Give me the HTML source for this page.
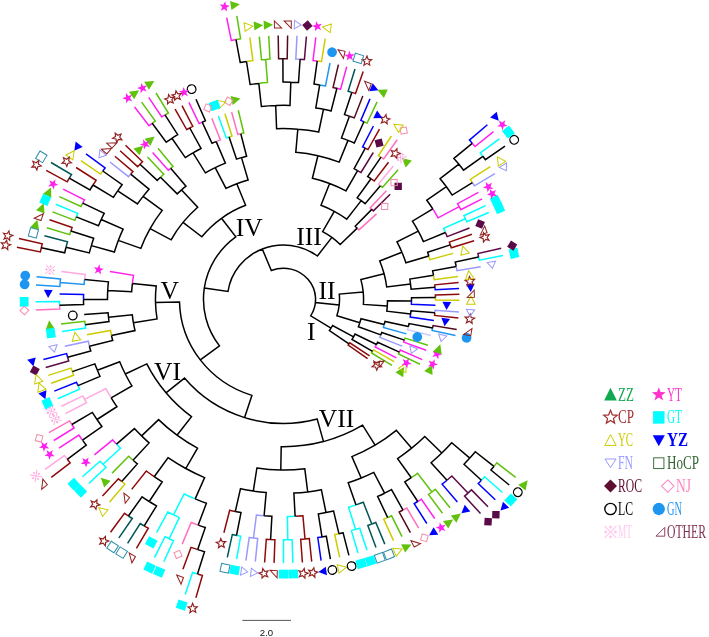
<!DOCTYPE html>
<html><head><meta charset="utf-8"><title>Circular phylogenetic tree</title>
<style>html,body{margin:0;padding:0;background:#fff}svg{display:block}.rn{font-family:"Liberation Serif",serif;font-size:25.5px;fill:#000}.lg{font-family:"Liberation Serif",serif;font-size:18.6px}.sc{font-family:"Liberation Sans",sans-serif;font-size:9.6px;fill:#111}</style></head><body>
<svg width="709" height="637" viewBox="0 0 709 637">
<rect width="709" height="637" fill="#fff"/>
<g fill="none" stroke-width="1.5" stroke-linejoin="miter" stroke-linecap="butt">
<path stroke="#8E0A0A" d="M349 343.9A80 77.6 0 0 1 348.2 345L367.6 358.7M349 343.9A80 77.6 0 0 0 349.8 342.8L369.6 355.9M434.9 312.8A152 147.4 0 0 1 434.6 315.4L458.4 317.9M435.5 297.5A152 147.4 0 0 0 435.4 295L459.4 294.3M435 287.3A152 147.4 0 0 0 434.8 284.8L458.6 282.5M450.3 244.9A176 170.7 0 0 1 451.3 247.7L474.1 240.7M450.3 244.9A176 170.7 0 0 0 449.3 242.1L471.9 234.3M371 178.7A152 147.4 0 0 1 374.2 181L388.5 162.3M365.3 148.1A176 170.7 0 0 1 368 149.5L379.5 129.1M351.8 92.4A224 217.2 0 0 1 355.5 93.6L363.2 71.5M189.8 128A200 194 0 0 1 192.8 126.4L182 105.7M189.8 128A200 194 0 0 0 186.7 129.6L175.1 109.2M140 164.2A200 194 0 0 1 142.5 161.8L125.5 145.3M140 164.2A200 194 0 0 0 137.6 166.6L120.1 150.7M130.7 174.1A200 194 0 0 1 133 171.6L114.9 156.3M93 185A224 217.2 0 0 1 96.1 180.3L76.1 167.5M69.3 178.2A248 240.5 0 0 0 67.2 181.8L46.2 170.4M70.9 231A224 217.2 0 0 1 72.1 227.5L49.5 219.8M41.3 247.8A248 240.5 0 0 1 42.2 243.8L18.9 238.4M41.3 247.8A248 240.5 0 0 0 40.4 251.9L16.9 247.3M67.3 459.3A271.9 263.8 0 0 0 70.2 462.9L51.3 477.3M121.7 481.5A248 240.5 0 0 1 118.4 478.8L102.5 496.1M154.2 476.7A224 217.2 0 0 1 146.3 471L131.7 489.4M128.4 516A271.9 263.8 0 0 1 124.5 513.3L110.5 532.2M144.2 525.9A271.9 263.8 0 0 0 148.3 528.2L136.4 548.4M197.7 549.6A271.9 263.8 0 0 1 191 547.4L182.9 569.3M197.5 574A295.9 287.1 0 0 0 202.4 575.4L195.9 597.8M235.3 511.5A224 217.2 0 0 1 229.7 510.2L223.9 532.8M270.6 539.5A248 240.5 0 0 1 266.3 539.2L264.6 562.5M270.6 539.5A248 240.5 0 0 0 274.9 539.7L274.1 562.9M295.1 516.3A224 217.2 0 0 0 302.9 515.7L305 538.9M305 538.9A248 240.5 0 0 1 300.7 539.2L302.4 562.5M305 538.9A248 240.5 0 0 0 309.3 538.5L311.7 561.7"/>
<path stroke="#60C20C" d="M372.6 351.4A104 100.9 0 0 1 371.6 352.9L391.9 365.3M399.4 352.1A128 124.2 0 0 1 398.4 354L420 364.3M404.4 340.1A128 124.2 0 0 0 405.1 338.1L427.9 345.3M380.4 185.7A152 147.4 0 0 1 382.4 187.4L398.1 169.7M363.9 121.7A200 194 0 0 1 367.1 123.1L377.1 101.9M258.8 83.4A224 217.2 0 0 1 267.5 82.6L265.7 59.4M265.7 59.4A248 240.5 0 0 1 270 59.1L268.7 35.9M265.7 59.4A248 240.5 0 0 0 261.5 59.7L259.3 36.6M236 39.6A271.9 263.8 0 0 1 240.6 38.8L236.8 15.8M240.8 133.7A176 170.7 0 0 1 243.8 133L238.3 110.3M165 114.9A224 217.2 0 0 1 168.4 113L156 93M152.2 123.3A224 217.2 0 0 1 155.3 121.1L141.6 102.1M170.7 168.3A176 170.7 0 0 1 173 166.4L158 148.3M160.5 177.2A176 170.7 0 0 1 163.8 174.2L147.5 157.1M82.7 203.1A224 217.2 0 0 0 81 206.5L59.3 196.6M76.3 216.9A224 217.2 0 0 0 74.8 220.4L52.5 211.9M70.9 231A224 217.2 0 0 0 69.7 234.6L46.8 227.7M85.2 324.7A200 194 0 0 1 84.8 321.3L61 324M133 460.2A224 217.2 0 0 1 128.7 456.3L112.1 473.1M387.7 517.6A248 240.5 0 0 0 391.6 515.8L402 536.7M411.3 477.7A224 217.2 0 0 0 417.6 473.3L431.9 492M431.9 492A248 240.5 0 0 1 428.5 494.4L442.5 513.3M431.9 492A248 240.5 0 0 0 435.3 489.4L450 507.8M493.9 466.4A271.9 263.8 0 0 0 496.8 462.9L515.7 477.3"/>
<path stroke="#CCCC00" d="M372.6 351.4A104 100.9 0 0 0 373.5 349.9L394.2 361.6M435.5 297.5A152 147.4 0 0 1 435.5 300.1L459.5 300.2M433.5 275.2A152 147.4 0 0 1 434.1 279.7L457.9 276.6M428.8 256A152 147.4 0 0 1 429.9 259.7L453 253.4M472.4 182.6A224 217.2 0 0 0 470.3 179.4L490.3 166.6M381 157.2A176 170.7 0 0 0 378.5 155.6L391.4 136M317.2 61A248 240.5 0 0 1 321.5 61.6L325.2 38.6M246.5 61.5A248 240.5 0 0 1 252.9 60.6L249.9 37.5M229.1 137A176 170.7 0 0 1 232 136.1L224.9 113.8M102.8 171A224 217.2 0 0 0 100.5 174L80.9 160.6M111.5 335.5A176 170.7 0 0 1 110.5 330.4L86.9 334.7M72.3 371.6A224 217.2 0 0 1 71 368.1L48.3 375.4M72.3 371.6A224 217.2 0 0 0 73.6 375.2L51.2 383.3M121.7 481.5A248 240.5 0 0 0 124.9 484.2L109.6 502.1M338.9 533.7A248 240.5 0 0 1 334.7 534.6L339.7 557.4M387.7 517.6A248 240.5 0 0 1 383.8 519.3L393.5 540.6"/>
<path stroke="#FF22EE" d="M376.5 344.5A104 100.9 0 0 1 375.2 346.9L396.4 357.8M399.4 352.1A128 124.2 0 0 0 400.3 350.1L422.2 359.6M404.4 340.1A128 124.2 0 0 1 403.7 342.1L426.2 350.2M432.8 208.8A176 170.7 0 0 1 438.1 217.8L459.2 206.7M459.2 206.7A200 194 0 0 1 460.8 209.7L482.1 198.9M459.2 206.7A200 194 0 0 0 457.5 203.7L478.4 192.3M472.2 143.3A248 240.5 0 0 1 475 146.5L493.5 131.7M336.9 88.3A224 217.2 0 0 1 340.6 89.2L346.7 66.7M317.2 61A248 240.5 0 0 0 313 60.5L315.8 37.4M236 39.6A271.9 263.8 0 0 0 231.3 40.4L226.7 17.6M202.2 122.1A200 194 0 0 0 199.1 123.5L188.9 102.4M165 114.9A224 217.2 0 0 0 161.8 116.9L148.7 97.4M152.2 123.3A224 217.2 0 0 0 149 125.6L134.6 107M170.7 168.3A176 170.7 0 0 0 168.3 170.2L152.6 152.6M82.7 203.1A224 217.2 0 0 1 84.4 199.8L63.1 189.1M132.4 283.5A152 147.4 0 0 1 133.5 275.3L109.9 271.5M71.8 424.5A248 240.5 0 0 0 74.1 428L53.8 440.5M82.5 440.1A248 240.5 0 0 1 78.8 435L59 448.1M116.5 444.1A224 217.2 0 0 1 112.7 439.9L94.4 454.9M417.8 501.5A248 240.5 0 0 0 421.4 499.2L434.7 518.5"/>
<path stroke="#9999FF" d="M380.8 334.9A104 100.9 0 0 1 379.8 337.4L402.1 346.1M434.9 312.8A152 147.4 0 0 0 435.1 310.3L459 312M456.2 266.4A176 170.7 0 0 1 457 270.7L480.7 266.8M472.4 182.6A224 217.2 0 0 1 474.5 185.8L494.9 173.6M300.1 59.3A248 240.5 0 0 0 295.8 59.1L297 35.8M130.7 174.1A200 194 0 0 0 128.5 176.7L109.9 162M89.4 346.2A200 194 0 0 1 88.3 341.2L64.8 346.3M264.1 515.7A224 217.2 0 0 1 256.4 515L253.5 538M253.5 538A248 240.5 0 0 1 249.2 537.5L245.9 560.6M253.5 538A248 240.5 0 0 0 257.7 538.5L255.3 561.7"/>
<path stroke="#1E96F0" d="M384.2 324.5A104 100.9 0 0 1 383.4 327.5L406.4 333.9M432.6 328A152 147.4 0 0 1 432.1 330.5L455.5 335.4M319.7 84.9A224 217.2 0 0 1 325.5 85.9L330 63M84.6 279.4A200 194 0 0 0 84.1 284.4L60.2 282.6M60.2 282.6A224 217.2 0 0 1 60.5 278.9L36.6 276.7M60.2 282.6A224 217.2 0 0 0 59.9 286.4L36 285"/>
<path stroke="#CCCCFF" d="M408.4 326.6A128 124.2 0 0 1 407.6 329.8L430.8 335.5"/>
<path stroke="#520A1A" d="M432.6 328A152 147.4 0 0 0 433.1 325.5L456.7 329.6M349.4 116.2A200 194 0 0 1 354.3 117.9L362.8 96.1M336.9 88.3A224 217.2 0 0 0 333.1 87.4L338.4 64.7M282.9 58.8A248 240.5 0 0 1 287.2 58.8L287.6 35.5M282.9 58.8A248 240.5 0 0 0 278.6 58.8L278.2 35.6M403 510A248 240.5 0 0 1 399.2 512L410.4 532.6"/>
<path stroke="#0000FF" d="M410.6 313.9A128 124.2 0 0 1 410.2 317.1L433.9 320.5M411.5 301A128 124.2 0 0 1 411.4 304.3L435.4 305.2M435 287.3A152 147.4 0 0 1 435.2 289.8L459.1 288.4M472.2 143.3A248 240.5 0 0 0 469.4 140.1L487.4 124.7M365.3 148.1A176 170.7 0 0 0 362.6 146.8L373.4 126M363.9 121.7A200 194 0 0 0 360.8 120.4L370 98.9M102.8 171A224 217.2 0 0 1 105.1 168L86 153.9M83.5 299.5A200 194 0 0 1 83.6 294.5L59.6 293.9M67.6 357.2A224 217.2 0 0 1 66.6 353.6L43.4 359.4M78 385.6A224 217.2 0 0 1 76.5 382.2L54.3 391.1M322 536.9A248 240.5 0 0 1 317.8 537.5L321.1 560.6M417.8 501.5A248 240.5 0 0 1 414.2 503.7L426.8 523.5M447 480.2A248 240.5 0 0 1 442.1 484.2L457.4 502.1M481.4 480.2A271.9 263.8 0 0 1 478.2 483.5L495.3 499.7"/>
<path stroke="#00FFFF" d="M478.6 256.9A200 194 0 0 1 479.4 260.2L502.9 255.5M445.4 232.5A176 170.7 0 0 0 443.6 228.4L465.4 218.7M465.4 218.7A200 194 0 0 1 466.8 221.8L488.8 212.5M465.4 218.7A200 194 0 0 0 463.9 215.7L485.6 205.6M482.9 156.3A248 240.5 0 0 0 480.3 153L499.4 138.9M229.1 137A176 170.7 0 0 0 226.2 137.9L218.4 115.9M76.3 216.9A224 217.2 0 0 1 77.8 213.4L55.7 204.2M59.6 305.2A224 217.2 0 0 1 59.5 301.4L35.6 301.7M85.2 324.7A200 194 0 0 0 85.7 328L62 331.5M78 385.6A224 217.2 0 0 0 79.6 389.1L57.7 398.7M116.5 444.1A224 217.2 0 0 0 120.5 448.3L103 464.2M103 464.2A248 240.5 0 0 1 100.1 461.2L82.4 476.8M103 464.2A248 240.5 0 0 0 106 467.2L88.8 483.5M195.2 498.9A224 217.2 0 0 1 184.1 494L173.5 514.9M173.5 514.9A248 240.5 0 0 1 167.8 512L156.6 532.6M173.5 514.9A248 240.5 0 0 0 179.3 517.6L169.2 538.7M169.2 538.7A271.9 263.8 0 0 1 165 536.7L154.5 557.7M169.2 538.7A271.9 263.8 0 0 0 173.5 540.6L163.8 561.8M197.5 574A295.9 287.1 0 0 1 192.6 572.5L185.2 594.6M236.5 535.5A248 240.5 0 0 0 240.7 536.2L236.6 559.1M295.1 516.3A224 217.2 0 0 1 287.4 516.5L287.8 539.8M287.8 539.8A248 240.5 0 0 1 283.5 539.8L283.5 563.1M287.8 539.8A248 240.5 0 0 0 292.1 539.7L292.9 562.9M356 504.9A224 217.2 0 0 1 348.6 507.2L355.6 529.4M355.6 529.4A248 240.5 0 0 1 351.4 530.6L358 553M355.6 529.4A248 240.5 0 0 0 359.7 528.2L367 550.3M481.4 480.2A271.9 263.8 0 0 0 484.6 476.8L502.4 492.5"/>
<path stroke="#5A0A46" d="M478.6 256.9A200 194 0 0 0 477.9 253.6L501.2 248.2M445.4 232.5A176 170.7 0 0 1 447.2 236.6L469.5 228M371.8 209.4A128 124.2 0 0 1 373.4 210.9L390.2 194.3M357.6 170.6A152 147.4 0 0 1 361 172.5L373.3 152.5M300.1 59.3A248 240.5 0 0 1 304.4 59.6L306.4 36.5M67.6 357.2A224 217.2 0 0 0 68.7 360.9L45.7 367.5M447 480.2A248 240.5 0 0 0 451.8 476L468 493.1M468 493.1A271.9 263.8 0 0 1 464.5 496.1L480.5 513.5M468 493.1A271.9 263.8 0 0 0 471.5 489.9L488 506.7"/>
<path stroke="#FF70C0" d="M357.2 228.1A104 100.9 0 0 1 359 229.9L376.5 213.9M371.8 209.4A128 124.2 0 0 0 370.1 207.9L386.4 190.8M381 157.2A176 170.7 0 0 1 383.6 158.9L397.2 139.7M240.8 133.7A176 170.7 0 0 0 237.8 134.4L231.6 112M216.2 141.6A176 170.7 0 0 1 220.4 139.9L211.8 118.2M59.6 305.2A224 217.2 0 0 0 59.8 309L35.8 310M71.8 424.5A248 240.5 0 0 1 69.6 420.9L48.9 432.7M198.2 525.1A248 240.5 0 0 1 191.2 522.5L182.2 544.1M403 510A248 240.5 0 0 0 406.8 508L418.7 528.2"/>
<path stroke="#FFAAE0" d="M380.4 185.7A152 147.4 0 0 0 378.4 184.1L393.4 165.9M84.6 279.4A200 194 0 0 1 85.2 274.4L61.4 271.4M111.2 397.8A200 194 0 0 1 105.9 388.6L84.6 399.3M84.6 399.3A224 217.2 0 0 1 82.9 395.9L61.4 406.2M84.6 399.3A224 217.2 0 0 0 86.5 402.6L65.4 413.7M67.3 459.3A271.9 263.8 0 0 1 64.4 455.6L45.1 469.4"/>
<path stroke="#005555" d="M351.8 92.4A224 217.2 0 0 0 348.1 91.3L355 69M69.3 178.2A248 240.5 0 0 1 71.5 174.6L51 162.5M66 247.3A224 217.2 0 0 1 67.5 241.8L44.4 235.7M128.4 516A271.9 263.8 0 0 0 132.3 518.5L118.9 537.9M144.2 525.9A271.9 263.8 0 0 1 140.2 523.5L127.6 543.3M236.5 535.5A248 240.5 0 0 1 232.3 534.6L227.3 557.4M356 504.9A224 217.2 0 0 0 363.3 502.3L371.8 524M371.8 524A248 240.5 0 0 1 367.8 525.5L376 547.4M371.8 524A248 240.5 0 0 0 375.8 522.5L384.8 544.1"/>
<path stroke="#000000" d="M308 279.3A32.1 31.1 0 0 1 310.7 315.8L331 328.1M331 328.1A56 54.4 0 0 1 329.4 330.5L349 343.9M331 328.1A56 54.4 0 0 0 332.6 325.5L353.6 336.8M353.6 336.8A80 77.6 0 0 1 352 339.4L372.6 351.4M353.6 336.8A80 77.6 0 0 0 355 334.1L376.5 344.5M376.5 344.5A104 100.9 0 0 0 377.7 342.2L399.4 352.1M308 279.3A32.1 31.1 0 0 1 315.4 302.6L339.2 305M339.2 305A56 54.4 0 0 1 336.9 315.7L359.8 322.7M359.8 322.7A80 77.6 0 0 1 358.4 326.7L380.8 334.9M380.8 334.9A104 100.9 0 0 0 381.7 332.5L404.4 340.1M359.8 322.7A80 77.6 0 0 0 361 318.7L384.2 324.5M384.2 324.5A104 100.9 0 0 0 385 321.5L408.4 326.6M408.4 326.6A128 124.2 0 0 0 409.1 323.5L432.6 328M339.2 305A56 54.4 0 0 0 339.3 294.1L363.2 291.9M363.2 291.9A80 77.6 0 0 1 363.4 304.4L387.3 305.9M387.3 305.9A104 100.9 0 0 1 386.8 311.2L410.6 313.9M410.6 313.9A128 124.2 0 0 0 411 310.7L434.9 312.8M387.3 305.9A104 100.9 0 0 0 387.5 300.7L411.5 301M411.5 301A128 124.2 0 0 0 411.5 297.8L435.5 297.5M363.2 291.9A80 77.6 0 0 0 360.9 279.6L384.1 273.7M384.1 273.7A104 100.9 0 0 1 386.7 287L410.5 284.1M410.5 284.1A128 124.2 0 0 1 411.1 289.2L435 287.3M410.5 284.1A128 124.2 0 0 0 409.8 279L433.5 275.2M433.5 275.2A152 147.4 0 0 0 432.6 270.8L456.2 266.4M456.2 266.4A176 170.7 0 0 0 455.2 262L478.6 256.9M384.1 273.7A104 100.9 0 0 0 379.7 261L401.9 252.2M401.9 252.2A128 124.2 0 0 1 405.9 262.8L428.8 256M428.8 256A152 147.4 0 0 0 427.6 252.3L450.3 244.9M401.9 252.2A128 124.2 0 0 0 397 241.9L418.3 231.2M418.3 231.2A152 147.4 0 0 1 423.4 241.6L445.4 232.5M418.3 231.2A152 147.4 0 0 0 412.4 221.2L432.8 208.8M432.8 208.8A176 170.7 0 0 0 426.8 200.2L446.4 186.7M446.4 186.7A200 194 0 0 1 452.2 195.1L472.4 182.6M446.4 186.7A200 194 0 0 0 440.1 178.7L458.9 164.2M458.9 164.2A224 217.2 0 0 1 463.6 170.2L482.9 156.3M482.9 156.3A248 240.5 0 0 1 485.4 159.7L505 146.2M458.9 164.2A224 217.2 0 0 0 453.9 158.4L472.2 143.3M308 279.3A32.1 31.1 0 0 0 271.3 270.5L262.3 249M262.3 249A56 54.4 0 0 1 317.4 256L331.9 237.4M331.9 237.4A80 77.6 0 0 1 340.2 244.5L357.2 228.1M357.2 228.1A104 100.9 0 0 0 355.2 226.2L371.8 209.4M331.9 237.4A80 77.6 0 0 0 322.6 231.6L334.3 211.3M334.3 211.3A104 100.9 0 0 1 346.7 219.1L361.2 200.6M361.2 200.6A128 124.2 0 0 1 365.1 203.7L380.4 185.7M361.2 200.6A128 124.2 0 0 0 357.2 197.8L371 178.7M371 178.7A152 147.4 0 0 0 367.7 176.6L381 157.2M334.3 211.3A104 100.9 0 0 0 321 205.2L329.6 183.5M329.6 183.5A128 124.2 0 0 1 345.9 190.9L357.6 170.6M357.6 170.6A152 147.4 0 0 0 354.1 168.7L365.3 148.1M329.6 183.5A128 124.2 0 0 0 312.4 178.3L317.9 155.7M317.9 155.7A152 147.4 0 0 1 339.2 162.1L348 140.4M348 140.4A176 170.7 0 0 1 354.3 143L363.9 121.7M348 140.4A176 170.7 0 0 0 341.5 138.1L349.4 116.2M349.4 116.2A200 194 0 0 0 344.5 114.6L351.8 92.4M317.9 155.7A152 147.4 0 0 0 295.8 152.3L297.8 129.2M297.8 129.2A176 170.7 0 0 1 318.7 132L323.5 109.2M323.5 109.2A200 194 0 0 1 331.1 110.9L336.9 88.3M323.5 109.2A200 194 0 0 0 315.8 107.9L319.7 84.9M319.7 84.9A224 217.2 0 0 0 314 84.1L317.2 61M297.8 129.2A176 170.7 0 0 0 276.6 128.7L275.7 105.5M275.7 105.5A200 194 0 0 1 290 105.4L290.8 82.2M290.8 82.2A224 217.2 0 0 1 298.5 82.5L300.1 59.3M290.8 82.2A224 217.2 0 0 0 283 82.1L282.9 58.8M275.7 105.5A200 194 0 0 0 261.4 106.5L258.8 83.4M258.8 83.4A224 217.2 0 0 0 250.1 84.5L246.5 61.5M246.5 61.5A248 240.5 0 0 0 240.2 62.5L236 39.6M262.3 249A56 54.4 0 0 0 228 291.5L204.3 288.1M204.3 288.1A80 77.6 0 0 1 235.8 236.9L221.5 218.3M221.5 218.3A104 100.9 0 0 1 245.6 205.3L236.8 183.7M236.8 183.7A128 124.2 0 0 1 248.1 180L241.5 157.6M241.5 157.6A152 147.4 0 0 1 246.6 156.3L240.8 133.7M241.5 157.6A152 147.4 0 0 0 236.5 159.1L229.1 137M236.8 183.7A128 124.2 0 0 0 226 188.4L215.2 167.6M215.2 167.6A152 147.4 0 0 1 225.4 163.1L216.2 141.6M216.2 141.6A176 170.7 0 0 0 212 143.3L202.2 122.1M202.2 122.1A200 194 0 0 1 205.4 120.7L196 99.3M215.2 167.6A152 147.4 0 0 0 205.4 172.8L193 152.9M193 152.9A176 170.7 0 0 1 201 148.5L189.8 128M193 152.9A176 170.7 0 0 0 185.3 157.6L171.9 138.3M171.9 138.3A200 194 0 0 1 177.7 134.7L165 114.9M171.9 138.3A200 194 0 0 0 166.2 142.2L152.2 123.3M221.5 218.3A104 100.9 0 0 0 201.8 236.8L183 222.4M183 222.4A128 124.2 0 0 1 197.7 207.2L181.6 189.9M181.6 189.9A152 147.4 0 0 1 186 186.2L170.7 168.3M181.6 189.9A152 147.4 0 0 0 177.2 193.9L160.5 177.2M160.5 177.2A176 170.7 0 0 0 157.2 180.4L140 164.2M183 222.4A128 124.2 0 0 0 171.1 239.8L150.1 228.7M150.1 228.7A152 147.4 0 0 1 162.2 210.4L143.1 196.4M143.1 196.4A176 170.7 0 0 1 149 189.2L130.7 174.1M143.1 196.4A176 170.7 0 0 0 137.5 203.9L117.7 190.9M117.7 190.9A200 194 0 0 1 122.1 184.7L102.8 171M117.7 190.9A200 194 0 0 0 113.4 197.3L93 185M93 185A224 217.2 0 0 0 90 189.9L69.3 178.2M150.1 228.7A152 147.4 0 0 0 140.8 248.4L118.3 240.4M118.3 240.4A176 170.7 0 0 1 123.1 229.1L101.2 219.5M101.2 219.5A200 194 0 0 1 104.2 213.4L82.7 203.1M101.2 219.5A200 194 0 0 0 98.5 225.7L76.3 216.9M118.3 240.4A176 170.7 0 0 0 114.4 252L91.4 245.6M91.4 245.6A200 194 0 0 1 93.7 238.3L70.9 231M91.4 245.6A200 194 0 0 0 89.3 252.9L66 247.3M66 247.3A224 217.2 0 0 0 64.7 252.8L41.3 247.8M204.3 288.1A80 77.6 0 0 0 219.5 345.9L200.3 359.9M200.3 359.9A104 100.9 0 0 1 179.5 301.9L155.5 302.5M155.5 302.5A128 124.2 0 0 1 156.2 286L132.4 283.5M132.4 283.5A152 147.4 0 0 0 131.7 291.8L107.7 290.6M107.7 290.6A176 170.7 0 0 1 108.4 281.8L84.6 279.4M107.7 290.6A176 170.7 0 0 0 107.5 299.5L83.5 299.5M83.5 299.5A200 194 0 0 0 83.6 304.6L59.6 305.2M155.5 302.5A128 124.2 0 0 0 157.1 319L133.4 322.7M133.4 322.7A152 147.4 0 0 1 132.3 314.8L108.5 317.2M108.5 317.2A176 170.7 0 0 1 108.1 312.8L84.2 314.6M108.5 317.2A176 170.7 0 0 0 109 321.6L85.2 324.7M133.4 322.7A152 147.4 0 0 0 135 330.6L111.5 335.5M111.5 335.5A176 170.7 0 0 0 112.7 340.5L89.4 346.2M89.4 346.2A200 194 0 0 0 90.8 351L67.6 357.2M200.3 359.9A104 100.9 0 0 0 251.9 395.4L244.6 417.6M244.6 417.6A128 124.2 0 0 1 184.5 378.1L166 392.8M166 392.8A152 147.4 0 0 1 146.8 363.9L125.3 374M125.3 374A176 170.7 0 0 1 119.7 361.7L97.4 370.2M97.4 370.2A200 194 0 0 1 94.9 363.9L72.3 371.6M97.4 370.2A200 194 0 0 0 100 376.4L78 385.6M125.3 374A176 170.7 0 0 0 131.9 385.9L111.2 397.8M111.2 397.8A200 194 0 0 0 116.9 406.7L97 419.5M97 419.5A224 217.2 0 0 1 92.3 412.4L71.8 424.5M97 419.5A224 217.2 0 0 0 101.9 426.5L82.5 440.1M82.5 440.1A248 240.5 0 0 0 86.3 445.2L67.3 459.3M166 392.8A152 147.4 0 0 0 191.5 416.7L177 435.2M177 435.2A176 170.7 0 0 1 158.6 419.6L141.6 435.9M141.6 435.9A200 194 0 0 1 134.4 428.6L116.5 444.1M141.6 435.9A200 194 0 0 0 149.1 442.9L133 460.2M133 460.2A224 217.2 0 0 0 137.3 463.9L121.7 481.5M177 435.2A176 170.7 0 0 0 197.5 448.2L185.8 468.5M185.8 468.5A200 194 0 0 1 168 457.7L154.2 476.7M154.2 476.7A224 217.2 0 0 0 162.2 481.9L149.2 501.5M149.2 501.5A248 240.5 0 0 1 142.1 496.8L128.4 516M149.2 501.5A248 240.5 0 0 0 156.5 505.9L144.2 525.9M185.8 468.5A200 194 0 0 0 204.6 477.6L195.2 498.9M195.2 498.9A224 217.2 0 0 0 206.4 503.3L198.2 525.1M198.2 525.1A248 240.5 0 0 0 205.3 527.5L197.7 549.6M197.7 549.6A271.9 263.8 0 0 0 204.5 551.7L197.5 574M244.6 417.6A128 124.2 0 0 0 317.2 419.1L323.5 441.6M323.5 441.6A152 147.4 0 0 1 281.2 446.7L280.8 470M280.8 470A176 170.7 0 0 1 256.9 468L253.3 491.1M253.3 491.1A200 194 0 0 1 240.5 488.7L235.3 511.5M235.3 511.5A224 217.2 0 0 0 241 512.6L236.5 535.5M253.3 491.1A200 194 0 0 0 266.2 492.6L264.1 515.7M264.1 515.7A224 217.2 0 0 0 271.9 516.3L270.6 539.5M280.8 470A176 170.7 0 0 0 304.8 468.8L307.7 491.9M307.7 491.9A200 194 0 0 1 293.9 493L295.1 516.3M307.7 491.9A200 194 0 0 0 321.4 489.8L326 512.6M326 512.6A224 217.2 0 0 1 318.3 513.9L322 536.9M322 536.9A248 240.5 0 0 0 326.3 536.2L330.4 559.1M326 512.6A224 217.2 0 0 0 333.6 511.1L338.9 533.7M338.9 533.7A248 240.5 0 0 0 343.1 532.8L348.9 555.4M323.5 441.6A152 147.4 0 0 0 362.6 425.2L375.1 445.1M375.1 445.1A176 170.7 0 0 1 351.9 456.6L361.2 478M361.2 478A200 194 0 0 1 348.2 482.8L356 504.9M361.2 478A200 194 0 0 0 373.8 472.4L384.6 493.2M384.6 493.2A224 217.2 0 0 1 377.6 496.4L387.7 517.6M384.6 493.2A224 217.2 0 0 0 391.5 489.6L403 510M375.1 445.1A176 170.7 0 0 0 396.3 430.3L411.7 448.2M411.7 448.2A200 194 0 0 1 397.6 458.6L411.3 477.7M411.3 477.7A224 217.2 0 0 1 404.8 481.9L417.8 501.5M411.7 448.2A200 194 0 0 0 424.8 436.5L441.8 453M441.8 453A224 217.2 0 0 1 431.1 462.7L447 480.2M441.8 453A224 217.2 0 0 0 451.7 442.7L469.8 458.1M469.8 458.1A248 240.5 0 0 1 464 464.2L481.4 480.2M469.8 458.1A248 240.5 0 0 0 475.3 451.7L493.9 466.4M493.9 466.4A271.9 263.8 0 0 1 490.9 470L509.2 485"/>
</g>
<g>
<g transform="translate(376.8 365.2) rotate(-323.9)"><polygon points="0,-5 1.3,-1.8 4.8,-1.5 2.1,0.7 2.9,4 0,2.2 -2.9,4 -2.1,0.7 -4.8,-1.5 -1.3,-1.8" fill="none" stroke="#922020" stroke-width="1.15"/></g>
<g transform="translate(379.1 362) rotate(-325.9)"><polygon points="3.5,-3.7 3.5,3.5 -3.7,3.5" fill="none" stroke="#922020" stroke-width="1.0"/></g>
<g transform="translate(401.6 371.1) rotate(-327.9)"><polygon points="0,-4.9 4.6,4.3 -4.6,4.3" fill="#60C20C"/></g>
<g transform="translate(404.1 367.1) rotate(-329.9)"><polygon points="0,-4.4 4.3,3.9 -4.3,3.9" fill="none" stroke="#CCCC00" stroke-width="1.0"/></g>
<g transform="translate(406.4 363) rotate(-331.9)"><polygon points="0,-5.4 1.3,-1.8 5.1,-1.7 2.1,0.7 3.2,4.4 0,2.2 -3.2,4.4 -2.1,0.7 -5.1,-1.7 -1.3,-1.8" fill="#FF22EE"/></g>
<g transform="translate(430.2 369.1) rotate(-333.9)"><polygon points="0,-4.9 4.6,4.3 -4.6,4.3" fill="#60C20C"/></g>
<g transform="translate(432.6 364.1) rotate(-335.8)"><polygon points="0,-5.4 1.3,-1.8 5.1,-1.7 2.1,0.7 3.2,4.4 0,2.2 -3.2,4.4 -2.1,0.7 -5.1,-1.7 -1.3,-1.8" fill="#FF22EE"/></g>
<g transform="translate(412.6 350.3) rotate(-337.8)"><polygon points="0,3.4 4.2,-3.2 -4.2,-3.2" fill="none" stroke="#9999FF" stroke-width="1.0"/></g>
<g transform="translate(436.8 354) rotate(-339.8)"><polygon points="0,-5.4 1.3,-1.8 5.1,-1.7 2.1,0.7 3.2,4.4 0,2.2 -3.2,4.4 -2.1,0.7 -5.1,-1.7 -1.3,-1.8" fill="#FF22EE"/></g>
<g transform="translate(438.7 348.8) rotate(-341.8)"><polygon points="0,-4.9 4.6,4.3 -4.6,4.3" fill="#60C20C"/></g>
<g transform="translate(417.3 337) rotate(-343.8)"><circle r="4.9" fill="#1E96F0"/></g>
<g transform="translate(441.9 338.2) rotate(-345.8)"><polygon points="0,3.4 4.2,-3.2 -4.2,-3.2" fill="none" stroke="#9999FF" stroke-width="1.0"/></g>
<g transform="translate(466.6 337.8) rotate(-347.8)"><circle r="4.9" fill="#1E96F0"/></g>
<g transform="translate(467.9 331.6) rotate(-349.8)"><polygon points="3.5,-3.7 3.5,3.5 -3.7,3.5" fill="none" stroke="#922020" stroke-width="1.0"/></g>
<g transform="translate(445.2 322) rotate(-351.8)"><polygon points="0,4.3 4.4,-3.7 -4.4,-3.7" fill="#0000FF"/></g>
<g transform="translate(469.7 319.1) rotate(-353.7)"><polygon points="0,-5 1.3,-1.8 4.8,-1.5 2.1,0.7 2.9,4 0,2.2 -2.9,4 -2.1,0.7 -4.8,-1.5 -1.3,-1.8" fill="none" stroke="#922020" stroke-width="1.15"/></g>
<g transform="translate(470.3 312.8) rotate(-355.7)"><polygon points="0,3.4 4.2,-3.2 -4.2,-3.2" fill="none" stroke="#9999FF" stroke-width="1.0"/></g>
<g transform="translate(446.7 305.6) rotate(-357.7)"><polygon points="0,4.3 4.4,-3.7 -4.4,-3.7" fill="#0000FF"/></g>
<g transform="translate(470.9 300.3) rotate(-359.7)"><polygon points="0,-4.4 4.3,3.9 -4.3,3.9" fill="none" stroke="#CCCC00" stroke-width="1.0"/></g>
<g transform="translate(470.8 293.9) rotate(-1.7)"><polygon points="3.5,-3.7 3.5,3.5 -3.7,3.5" fill="none" stroke="#922020" stroke-width="1.0"/></g>
<g transform="translate(470.5 287.7) rotate(-3.7)"><polygon points="0,4.3 4.4,-3.7 -4.4,-3.7" fill="#0000FF"/></g>
<g transform="translate(469.9 281.4) rotate(-5.7)"><polygon points="0,-5 1.3,-1.8 4.8,-1.5 2.1,0.7 2.9,4 0,2.2 -2.9,4 -2.1,0.7 -4.8,-1.5 -1.3,-1.8" fill="none" stroke="#922020" stroke-width="1.15"/></g>
<g transform="translate(469.2 275.1) rotate(-7.6)"><polygon points="0,-4.4 4.3,3.9 -4.3,3.9" fill="none" stroke="#CCCC00" stroke-width="1.0"/></g>
<g transform="translate(491.9 265) rotate(-9.6)"><polygon points="0,3.4 4.2,-3.2 -4.2,-3.2" fill="none" stroke="#9999FF" stroke-width="1.0"/></g>
<g transform="translate(514 253.3) rotate(-11.6)"><rect x="-4.4" y="-4.8" width="8.8" height="9.6" fill="#00FFFF"/></g>
<g transform="translate(512.2 245.6) rotate(-13.6)"><polygon points="0,-5.2 5.2,0 0,5.2 -5.2,0" fill="#5A0A46"/></g>
<g transform="translate(464 250.4) rotate(-15.6)"><polygon points="0,-4.4 4.3,3.9 -4.3,3.9" fill="none" stroke="#CCCC00" stroke-width="1.0"/></g>
<g transform="translate(485 237.4) rotate(-17.6)"><polygon points="0,-5 1.3,-1.8 4.8,-1.5 2.1,0.7 2.9,4 0,2.2 -2.9,4 -2.1,0.7 -4.8,-1.5 -1.3,-1.8" fill="none" stroke="#922020" stroke-width="1.15"/></g>
<g transform="translate(482.6 230.6) rotate(-19.6)"><polygon points="3.5,-3.7 3.5,3.5 -3.7,3.5" fill="none" stroke="#922020" stroke-width="1.0"/></g>
<g transform="translate(480.1 224) rotate(-21.6)"><polygon points="0,-5.2 5.2,0 0,5.2 -5.2,0" fill="#5A0A46"/></g>
<g transform="translate(499.2 208.1) rotate(-23.5)"><rect x="-4.4" y="-4.8" width="8.8" height="9.6" fill="#00FFFF"/></g>
<g transform="translate(495.8 200.9) rotate(-25.5)"><rect x="-4.4" y="-4.8" width="8.8" height="9.6" fill="#00FFFF"/></g>
<g transform="translate(492.2 193.8) rotate(-27.5)"><polygon points="0,-5.4 1.3,-1.8 5.1,-1.7 2.1,0.7 3.2,4.4 0,2.2 -3.2,4.4 -2.1,0.7 -5.1,-1.7 -1.3,-1.8" fill="#FF22EE"/></g>
<g transform="translate(488.3 186.8) rotate(-29.5)"><polygon points="0,-5.4 1.3,-1.8 5.1,-1.7 2.1,0.7 3.2,4.4 0,2.2 -3.2,4.4 -2.1,0.7 -5.1,-1.7 -1.3,-1.8" fill="#FF22EE"/></g>
<g transform="translate(504.6 167.9) rotate(-31.5)"><polygon points="0,3.4 4.2,-3.2 -4.2,-3.2" fill="none" stroke="#9999FF" stroke-width="1.0"/></g>
<g transform="translate(499.8 160.5) rotate(-33.5)"><polygon points="0,-4.4 4.3,3.9 -4.3,3.9" fill="none" stroke="#CCCC00" stroke-width="1.0"/></g>
<g transform="translate(514.2 139.8) rotate(-35.5)"><circle r="4.3" fill="none" stroke="#000000" stroke-width="1.3"/></g>
<g transform="translate(508.4 132.1) rotate(-37.5)"><rect x="-4.4" y="-4.8" width="8.8" height="9.6" fill="#00FFFF"/></g>
<g transform="translate(502.3 124.7) rotate(-39.4)"><polygon points="0,-5.4 1.3,-1.8 5.1,-1.7 2.1,0.7 3.2,4.4 0,2.2 -3.2,4.4 -2.1,0.7 -5.1,-1.7 -1.3,-1.8" fill="#FF22EE"/></g>
<g transform="translate(495.9 117.4) rotate(-41.4)"><polygon points="0,4.3 4.4,-3.7 -4.4,-3.7" fill="#0000FF"/></g>
<g transform="translate(384.7 206.4) rotate(-43.4)"><polygon points="0,-4.4 4.4,0 0,4.4 -4.4,0" fill="none" stroke="#F58CA8" stroke-width="1.0"/></g>
<g transform="translate(398.2 186.4) rotate(-45.4)"><polygon points="0,-5.2 5.2,0 0,5.2 -5.2,0" fill="#5A0A46"/></g>
<g transform="translate(394.1 182.6) rotate(-47.4)"><polygon points="0,-4.4 4.4,0 0,4.4 -4.4,0" fill="none" stroke="#F58CA8" stroke-width="1.0"/></g>
<g transform="translate(405.5 161.3) rotate(-49.4)"><polygon points="0,-4.9 4.6,4.3 -4.6,4.3" fill="#60C20C"/></g>
<g transform="translate(400.5 157.3) rotate(-51.4)"><g stroke="#FFAAE0" stroke-width="0.9" fill="#FFAAE0"><path d="M-4.4-4.4L4.4 4.4M4.4-4.4L-4.4 4.4" fill="none"/><circle cx="0" cy="-3.6" r="0.7"/><circle cx="0" cy="3.6" r="0.7"/><circle cx="-3.6" cy="0" r="0.7"/><circle cx="3.6" cy="0" r="0.7"/></g></g>
<g transform="translate(395.3 153.5) rotate(-53.4)"><polygon points="0,-5 1.3,-1.8 4.8,-1.5 2.1,0.7 2.9,4 0,2.2 -2.9,4 -2.1,0.7 -4.8,-1.5 -1.3,-1.8" fill="none" stroke="#922020" stroke-width="1.15"/></g>
<g transform="translate(403.7 130.6) rotate(-55.3)"><polygon points="0,-4.4 4.4,0 0,4.4 -4.4,0" fill="none" stroke="#F58CA8" stroke-width="1.0"/></g>
<g transform="translate(397.6 126.7) rotate(-57.3)"><polygon points="0,-4.4 4.3,3.9 -4.3,3.9" fill="none" stroke="#CCCC00" stroke-width="1.0"/></g>
<g transform="translate(379.1 143) rotate(-59.3)"><polygon points="0,-5.2 5.2,0 0,5.2 -5.2,0" fill="#5A0A46"/></g>
<g transform="translate(385 119.5) rotate(-61.3)"><polygon points="0,-5 1.3,-1.8 4.8,-1.5 2.1,0.7 2.9,4 0,2.2 -2.9,4 -2.1,0.7 -4.8,-1.5 -1.3,-1.8" fill="none" stroke="#922020" stroke-width="1.15"/></g>
<g transform="translate(378.5 116.1) rotate(-63.3)"><polygon points="0,4.3 4.4,-3.7 -4.4,-3.7" fill="#0000FF"/></g>
<g transform="translate(381.9 91.9) rotate(-65.3)"><polygon points="0,-4.9 4.6,4.3 -4.6,4.3" fill="#60C20C"/></g>
<g transform="translate(374.4 88.7) rotate(-67.3)"><polygon points="0,4.3 4.4,-3.7 -4.4,-3.7" fill="#0000FF"/></g>
<g transform="translate(366.8 85.8) rotate(-69.3)"><polygon points="3.5,-3.7 3.5,3.5 -3.7,3.5" fill="none" stroke="#922020" stroke-width="1.0"/></g>
<g transform="translate(366.9 61.1) rotate(-71.2)"><polygon points="0,-5 1.3,-1.8 4.8,-1.5 2.1,0.7 2.9,4 0,2.2 -2.9,4 -2.1,0.7 -4.8,-1.5 -1.3,-1.8" fill="none" stroke="#922020" stroke-width="1.15"/></g>
<g transform="translate(358.3 58.4) rotate(-73.2)"><rect x="-4.1" y="-4.3" width="8.2" height="8.6" fill="none" stroke="#2E8CA8" stroke-width="1.0"/></g>
<g transform="translate(349.6 56.1) rotate(-75.2)"><polygon points="0,-5.4 1.3,-1.8 5.1,-1.7 2.1,0.7 3.2,4.4 0,2.2 -3.2,4.4 -2.1,0.7 -5.1,-1.7 -1.3,-1.8" fill="#FF22EE"/></g>
<g transform="translate(340.9 54) rotate(-77.2)"><polygon points="3.5,-3.7 3.5,3.5 -3.7,3.5" fill="none" stroke="#922020" stroke-width="1.0"/></g>
<g transform="translate(332.1 52.2) rotate(-79.2)"><circle r="4.9" fill="#1E96F0"/></g>
<g transform="translate(326.9 27.7) rotate(-81.2)"><polygon points="0,-4.4 4.3,3.9 -4.3,3.9" fill="none" stroke="#CCCC00" stroke-width="1.0"/></g>
<g transform="translate(317.2 26.4) rotate(-83.2)"><polygon points="0,-5.4 1.3,-1.8 5.1,-1.7 2.1,0.7 3.2,4.4 0,2.2 -3.2,4.4 -2.1,0.7 -5.1,-1.7 -1.3,-1.8" fill="#FF22EE"/></g>
<g transform="translate(307.4 25.5) rotate(-85.2)"><polygon points="0,-5.2 5.2,0 0,5.2 -5.2,0" fill="#5A0A46"/></g>
<g transform="translate(297.6 24.8) rotate(-87.2)"><polygon points="0,3.4 4.2,-3.2 -4.2,-3.2" fill="none" stroke="#9999FF" stroke-width="1.0"/></g>
<g transform="translate(287.8 24.5) rotate(-89.1)"><polygon points="3.5,-3.7 3.5,3.5 -3.7,3.5" fill="none" stroke="#922020" stroke-width="1.0"/></g>
<g transform="translate(277.9 24.5) rotate(88.9)"><polygon points="3.5,-3.7 3.5,3.5 -3.7,3.5" fill="none" stroke="#922020" stroke-width="1.0"/></g>
<g transform="translate(268.1 24.9) rotate(86.9)"><polygon points="0,-4.9 4.6,4.3 -4.6,4.3" fill="#60C20C"/></g>
<g transform="translate(258.3 25.6) rotate(84.9)"><polygon points="0,-4.9 4.6,4.3 -4.6,4.3" fill="#60C20C"/></g>
<g transform="translate(248.5 26.6) rotate(82.9)"><polygon points="0,-4.4 4.3,3.9 -4.3,3.9" fill="none" stroke="#CCCC00" stroke-width="1.0"/></g>
<g transform="translate(235 4.9) rotate(80.9)"><polygon points="0,-4.9 4.6,4.3 -4.6,4.3" fill="#60C20C"/></g>
<g transform="translate(224.5 6.7) rotate(78.9)"><polygon points="0,-5.4 1.3,-1.8 5.1,-1.7 2.1,0.7 3.2,4.4 0,2.2 -3.2,4.4 -2.1,0.7 -5.1,-1.7 -1.3,-1.8" fill="#FF22EE"/></g>
<g transform="translate(235.8 99.6) rotate(77)"><polygon points="0,-4.9 4.6,4.3 -4.6,4.3" fill="#60C20C"/></g>
<g transform="translate(228.7 101.3) rotate(75)"><polygon points="0,-4.4 4.4,0 0,4.4 -4.4,0" fill="none" stroke="#F58CA8" stroke-width="1.0"/></g>
<g transform="translate(221.6 103.3) rotate(73)"><polygon points="0,-4.4 4.3,3.9 -4.3,3.9" fill="none" stroke="#CCCC00" stroke-width="1.0"/></g>
<g transform="translate(214.6 105.5) rotate(71)"><rect x="-4.4" y="-4.8" width="8.8" height="9.6" fill="#00FFFF"/></g>
<g transform="translate(207.8 107.9) rotate(69)"><polygon points="0,-4.4 4.4,0 0,4.4 -4.4,0" fill="none" stroke="#F58CA8" stroke-width="1.0"/></g>
<g transform="translate(191.6 89.1) rotate(67)"><circle r="4.3" fill="none" stroke="#000000" stroke-width="1.3"/></g>
<g transform="translate(184.1 92.4) rotate(65)"><polygon points="0,-5.4 1.3,-1.8 5.1,-1.7 2.1,0.7 3.2,4.4 0,2.2 -3.2,4.4 -2.1,0.7 -5.1,-1.7 -1.3,-1.8" fill="#FF22EE"/></g>
<g transform="translate(176.8 95.8) rotate(63)"><polygon points="0,-5 1.3,-1.8 4.8,-1.5 2.1,0.7 2.9,4 0,2.2 -2.9,4 -2.1,0.7 -4.8,-1.5 -1.3,-1.8" fill="none" stroke="#922020" stroke-width="1.15"/></g>
<g transform="translate(169.6 99.5) rotate(61.1)"><polygon points="0,-5 1.3,-1.8 4.8,-1.5 2.1,0.7 2.9,4 0,2.2 -2.9,4 -2.1,0.7 -4.8,-1.5 -1.3,-1.8" fill="none" stroke="#922020" stroke-width="1.15"/></g>
<g transform="translate(150.2 83.5) rotate(59.1)"><polygon points="0,-4.9 4.6,4.3 -4.6,4.3" fill="#60C20C"/></g>
<g transform="translate(142.5 88.2) rotate(57.1)"><polygon points="0,-5.4 1.3,-1.8 5.1,-1.7 2.1,0.7 3.2,4.4 0,2.2 -3.2,4.4 -2.1,0.7 -5.1,-1.7 -1.3,-1.8" fill="#FF22EE"/></g>
<g transform="translate(135.1 93) rotate(55.1)"><polygon points="0,-4.9 4.6,4.3 -4.6,4.3" fill="#60C20C"/></g>
<g transform="translate(127.8 98.1) rotate(53.1)"><polygon points="0,-5.4 1.3,-1.8 5.1,-1.7 2.1,0.7 3.2,4.4 0,2.2 -3.2,4.4 -2.1,0.7 -5.1,-1.7 -1.3,-1.8" fill="#FF22EE"/></g>
<g transform="translate(150.8 139.7) rotate(51.1)"><polygon points="0,-4.9 4.6,4.3 -4.6,4.3" fill="#60C20C"/></g>
<g transform="translate(145.2 144.3) rotate(49.1)"><polygon points="0,-5.4 1.3,-1.8 5.1,-1.7 2.1,0.7 3.2,4.4 0,2.2 -3.2,4.4 -2.1,0.7 -5.1,-1.7 -1.3,-1.8" fill="#FF22EE"/></g>
<g transform="translate(139.7 149) rotate(47.1)"><polygon points="0,-4.9 4.6,4.3 -4.6,4.3" fill="#60C20C"/></g>
<g transform="translate(117.5 137.5) rotate(45.2)"><polygon points="0,-5 1.3,-1.8 4.8,-1.5 2.1,0.7 2.9,4 0,2.2 -2.9,4 -2.1,0.7 -4.8,-1.5 -1.3,-1.8" fill="none" stroke="#922020" stroke-width="1.15"/></g>
<g transform="translate(111.8 143.1) rotate(43.2)"><polygon points="3.5,-3.7 3.5,3.5 -3.7,3.5" fill="none" stroke="#922020" stroke-width="1.0"/></g>
<g transform="translate(106.4 149) rotate(41.2)"><polygon points="3.5,-3.7 3.5,3.5 -3.7,3.5" fill="none" stroke="#922020" stroke-width="1.0"/></g>
<g transform="translate(101.1 155.1) rotate(39.2)"><polygon points="0,3.4 4.2,-3.2 -4.2,-3.2" fill="none" stroke="#9999FF" stroke-width="1.0"/></g>
<g transform="translate(76.9 147.2) rotate(37.2)"><polygon points="0,4.3 4.4,-3.7 -4.4,-3.7" fill="#0000FF"/></g>
<g transform="translate(71.6 154.3) rotate(35.2)"><polygon points="0,-4.4 4.3,3.9 -4.3,3.9" fill="none" stroke="#CCCC00" stroke-width="1.0"/></g>
<g transform="translate(66.6 161.5) rotate(33.2)"><polygon points="0,-5 1.3,-1.8 4.8,-1.5 2.1,0.7 2.9,4 0,2.2 -2.9,4 -2.1,0.7 -4.8,-1.5 -1.3,-1.8" fill="none" stroke="#922020" stroke-width="1.15"/></g>
<g transform="translate(41.3 156.8) rotate(31.2)"><rect x="-4.1" y="-4.3" width="8.2" height="8.6" fill="none" stroke="#2E8CA8" stroke-width="1.0"/></g>
<g transform="translate(36.3 165) rotate(29.2)"><polygon points="0,-5 1.3,-1.8 4.8,-1.5 2.1,0.7 2.9,4 0,2.2 -2.9,4 -2.1,0.7 -4.8,-1.5 -1.3,-1.8" fill="none" stroke="#922020" stroke-width="1.15"/></g>
<g transform="translate(53 184.1) rotate(27.3)"><polygon points="0,-5.4 1.3,-1.8 5.1,-1.7 2.1,0.7 3.2,4.4 0,2.2 -3.2,4.4 -2.1,0.7 -5.1,-1.7 -1.3,-1.8" fill="#FF22EE"/></g>
<g transform="translate(49 191.9) rotate(25.3)"><polygon points="0,-4.9 4.6,4.3 -4.6,4.3" fill="#60C20C"/></g>
<g transform="translate(45.3 199.8) rotate(23.3)"><rect x="-4.4" y="-4.8" width="8.8" height="9.6" fill="#00FFFF"/></g>
<g transform="translate(41.9 207.9) rotate(21.3)"><polygon points="0,-4.9 4.6,4.3 -4.6,4.3" fill="#60C20C"/></g>
<g transform="translate(38.8 216.1) rotate(19.3)"><polygon points="3.5,-3.7 3.5,3.5 -3.7,3.5" fill="none" stroke="#922020" stroke-width="1.0"/></g>
<g transform="translate(35.9 224.4) rotate(17.3)"><polygon points="0,-4.9 4.6,4.3 -4.6,4.3" fill="#60C20C"/></g>
<g transform="translate(33.4 232.8) rotate(15.3)"><rect x="-4.1" y="-4.3" width="8.2" height="8.6" fill="none" stroke="#2E8CA8" stroke-width="1.0"/></g>
<g transform="translate(7.8 235.8) rotate(13.4)"><polygon points="0,-5 1.3,-1.8 4.8,-1.5 2.1,0.7 2.9,4 0,2.2 -2.9,4 -2.1,0.7 -4.8,-1.5 -1.3,-1.8" fill="none" stroke="#922020" stroke-width="1.15"/></g>
<g transform="translate(5.7 245.2) rotate(11.4)"><polygon points="0,-5 1.3,-1.8 4.8,-1.5 2.1,0.7 2.9,4 0,2.2 -2.9,4 -2.1,0.7 -4.8,-1.5 -1.3,-1.8" fill="none" stroke="#922020" stroke-width="1.15"/></g>
<g transform="translate(98.6 269.7) rotate(9.4)"><polygon points="0,-5.4 1.3,-1.8 5.1,-1.7 2.1,0.7 3.2,4.4 0,2.2 -3.2,4.4 -2.1,0.7 -5.1,-1.7 -1.3,-1.8" fill="#FF22EE"/></g>
<g transform="translate(50.1 269.9) rotate(7.4)"><g stroke="#FFAAE0" stroke-width="0.9" fill="#FFAAE0"><path d="M-4.4-4.4L4.4 4.4M4.4-4.4L-4.4 4.4" fill="none"/><circle cx="0" cy="-3.6" r="0.7"/><circle cx="0" cy="3.6" r="0.7"/><circle cx="-3.6" cy="0" r="0.7"/><circle cx="3.6" cy="0" r="0.7"/></g></g>
<g transform="translate(25.3 275.6) rotate(5.4)"><circle r="4.9" fill="#1E96F0"/></g>
<g transform="translate(24.6 284.3) rotate(3.4)"><circle r="4.9" fill="#1E96F0"/></g>
<g transform="translate(48.2 293.6) rotate(1.4)"><polygon points="0,4.3 4.4,-3.7 -4.4,-3.7" fill="#0000FF"/></g>
<g transform="translate(24.2 301.8) rotate(-0.6)"><rect x="-4.4" y="-4.8" width="8.8" height="9.6" fill="#00FFFF"/></g>
<g transform="translate(24.4 310.5) rotate(-2.6)"><polygon points="0,-4.4 4.4,0 0,4.4 -4.4,0" fill="none" stroke="#F58CA8" stroke-width="1.0"/></g>
<g transform="translate(72.8 315.5) rotate(-4.5)"><circle r="4.3" fill="none" stroke="#000000" stroke-width="1.3"/></g>
<g transform="translate(49.7 325.2) rotate(-6.5)"><polygon points="0,-4.9 4.6,4.3 -4.6,4.3" fill="#60C20C"/></g>
<g transform="translate(50.8 333.1) rotate(-8.5)"><rect x="-4.4" y="-4.8" width="8.8" height="9.6" fill="#00FFFF"/></g>
<g transform="translate(75.7 336.7) rotate(-10.5)"><polygon points="0,-4.4 4.3,3.9 -4.3,3.9" fill="none" stroke="#CCCC00" stroke-width="1.0"/></g>
<g transform="translate(53.7 348.7) rotate(-12.5)"><polygon points="0,3.4 4.2,-3.2 -4.2,-3.2" fill="none" stroke="#9999FF" stroke-width="1.0"/></g>
<g transform="translate(32.4 362.2) rotate(-14.5)"><polygon points="0,4.3 4.4,-3.7 -4.4,-3.7" fill="#0000FF"/></g>
<g transform="translate(34.8 370.6) rotate(-16.5)"><polygon points="0,-5.2 5.2,0 0,5.2 -5.2,0" fill="#5A0A46"/></g>
<g transform="translate(37.5 378.9) rotate(-18.4)"><polygon points="0,-4.4 4.3,3.9 -4.3,3.9" fill="none" stroke="#CCCC00" stroke-width="1.0"/></g>
<g transform="translate(40.5 387.1) rotate(-20.4)"><polygon points="0,-4.4 4.3,3.9 -4.3,3.9" fill="none" stroke="#CCCC00" stroke-width="1.0"/></g>
<g transform="translate(43.8 395.3) rotate(-22.4)"><polygon points="0,4.3 4.4,-3.7 -4.4,-3.7" fill="#0000FF"/></g>
<g transform="translate(47.4 403.3) rotate(-24.4)"><rect x="-4.4" y="-4.8" width="8.8" height="9.6" fill="#00FFFF"/></g>
<g transform="translate(51.2 411.1) rotate(-26.4)"><g stroke="#FFAAE0" stroke-width="0.9" fill="#FFAAE0"><path d="M-4.4-4.4L4.4 4.4M4.4-4.4L-4.4 4.4" fill="none"/><circle cx="0" cy="-3.6" r="0.7"/><circle cx="0" cy="3.6" r="0.7"/><circle cx="-3.6" cy="0" r="0.7"/><circle cx="3.6" cy="0" r="0.7"/></g></g>
<g transform="translate(55.4 418.9) rotate(-28.4)"><g stroke="#FFAAE0" stroke-width="0.9" fill="#FFAAE0"><path d="M-4.4-4.4L4.4 4.4M4.4-4.4L-4.4 4.4" fill="none"/><circle cx="0" cy="-3.6" r="0.7"/><circle cx="0" cy="3.6" r="0.7"/><circle cx="-3.6" cy="0" r="0.7"/><circle cx="3.6" cy="0" r="0.7"/></g></g>
<g transform="translate(39.1 438.3) rotate(-30.4)"><polygon points="0,-4.4 4.4,0 0,4.4 -4.4,0" fill="none" stroke="#F58CA8" stroke-width="1.0"/></g>
<g transform="translate(44.2 446.4) rotate(-32.4)"><polygon points="0,-5.4 1.3,-1.8 5.1,-1.7 2.1,0.7 3.2,4.4 0,2.2 -3.2,4.4 -2.1,0.7 -5.1,-1.7 -1.3,-1.8" fill="#FF22EE"/></g>
<g transform="translate(49.6 454.4) rotate(-34.3)"><polygon points="0,-5.4 1.3,-1.8 5.1,-1.7 2.1,0.7 3.2,4.4 0,2.2 -3.2,4.4 -2.1,0.7 -5.1,-1.7 -1.3,-1.8" fill="#FF22EE"/></g>
<g transform="translate(36 475.9) rotate(-36.3)"><g stroke="#FFAAE0" stroke-width="0.9" fill="#FFAAE0"><path d="M-4.4-4.4L4.4 4.4M4.4-4.4L-4.4 4.4" fill="none"/><circle cx="0" cy="-3.6" r="0.7"/><circle cx="0" cy="3.6" r="0.7"/><circle cx="-3.6" cy="0" r="0.7"/><circle cx="3.6" cy="0" r="0.7"/></g></g>
<g transform="translate(42.4 484.2) rotate(-38.3)"><polygon points="3.5,-3.7 3.5,3.5 -3.7,3.5" fill="none" stroke="#922020" stroke-width="1.0"/></g>
<g transform="translate(85.8 462) rotate(-40.3)"><polygon points="0,-5.4 1.3,-1.8 5.1,-1.7 2.1,0.7 3.2,4.4 0,2.2 -3.2,4.4 -2.1,0.7 -5.1,-1.7 -1.3,-1.8" fill="#FF22EE"/></g>
<g transform="translate(74 484.3) rotate(-42.3)"><rect x="-4.4" y="-4.8" width="8.8" height="9.6" fill="#00FFFF"/></g>
<g transform="translate(80.7 491.2) rotate(-44.3)"><rect x="-4.4" y="-4.8" width="8.8" height="9.6" fill="#00FFFF"/></g>
<g transform="translate(104.3 481.1) rotate(-46.3)"><polygon points="0,-4.9 4.6,4.3 -4.6,4.3" fill="#60C20C"/></g>
<g transform="translate(94.9 504.4) rotate(-48.3)"><polygon points="0,-5 1.3,-1.8 4.8,-1.5 2.1,0.7 2.9,4 0,2.2 -2.9,4 -2.1,0.7 -4.8,-1.5 -1.3,-1.8" fill="none" stroke="#922020" stroke-width="1.15"/></g>
<g transform="translate(102.3 510.6) rotate(-50.2)"><polygon points="0,-4.4 4.3,3.9 -4.3,3.9" fill="none" stroke="#CCCC00" stroke-width="1.0"/></g>
<g transform="translate(124.7 498.2) rotate(-52.2)"><polygon points="3.5,-3.7 3.5,3.5 -3.7,3.5" fill="none" stroke="#922020" stroke-width="1.0"/></g>
<g transform="translate(103.8 541.1) rotate(-54.2)"><polygon points="0,-5 1.3,-1.8 4.8,-1.5 2.1,0.7 2.9,4 0,2.2 -2.9,4 -2.1,0.7 -4.8,-1.5 -1.3,-1.8" fill="none" stroke="#922020" stroke-width="1.15"/></g>
<g transform="translate(112.6 547) rotate(-56.2)"><rect x="-4.1" y="-4.3" width="8.2" height="8.6" fill="none" stroke="#2E8CA8" stroke-width="1.0"/></g>
<g transform="translate(121.6 552.6) rotate(-58.2)"><rect x="-4.1" y="-4.3" width="8.2" height="8.6" fill="none" stroke="#2E8CA8" stroke-width="1.0"/></g>
<g transform="translate(130.7 557.9) rotate(-60.2)"><polygon points="3.5,-3.7 3.5,3.5 -3.7,3.5" fill="none" stroke="#922020" stroke-width="1.0"/></g>
<g transform="translate(151.3 542.3) rotate(-62.2)"><rect x="-4.4" y="-4.8" width="8.8" height="9.6" fill="#00FFFF"/></g>
<g transform="translate(149.6 567.6) rotate(-64.2)"><rect x="-4.4" y="-4.8" width="8.8" height="9.6" fill="#00FFFF"/></g>
<g transform="translate(159.2 571.9) rotate(-66.2)"><rect x="-4.4" y="-4.8" width="8.8" height="9.6" fill="#00FFFF"/></g>
<g transform="translate(178 554.4) rotate(-68.1)"><polygon points="0,-4.4 4.4,0 0,4.4 -4.4,0" fill="none" stroke="#F58CA8" stroke-width="1.0"/></g>
<g transform="translate(179 579.6) rotate(-70.1)"><polygon points="3.5,-3.7 3.5,3.5 -3.7,3.5" fill="none" stroke="#922020" stroke-width="1.0"/></g>
<g transform="translate(181.7 605.1) rotate(-72.1)"><rect x="-4.4" y="-4.8" width="8.8" height="9.6" fill="#00FFFF"/></g>
<g transform="translate(192.7 608.4) rotate(-74.1)"><polygon points="0,-5 1.3,-1.8 4.8,-1.5 2.1,0.7 2.9,4 0,2.2 -2.9,4 -2.1,0.7 -4.8,-1.5 -1.3,-1.8" fill="none" stroke="#922020" stroke-width="1.15"/></g>
<g transform="translate(221.1 543.5) rotate(-76.1)"><polygon points="0,-5 1.3,-1.8 4.8,-1.5 2.1,0.7 2.9,4 0,2.2 -2.9,4 -2.1,0.7 -4.8,-1.5 -1.3,-1.8" fill="none" stroke="#922020" stroke-width="1.15"/></g>
<g transform="translate(225 568.2) rotate(-78.1)"><rect x="-4.1" y="-4.3" width="8.2" height="8.6" fill="none" stroke="#2E8CA8" stroke-width="1.0"/></g>
<g transform="translate(234.6 570) rotate(-80.1)"><rect x="-4.4" y="-4.8" width="8.8" height="9.6" fill="#00FFFF"/></g>
<g transform="translate(244.3 571.5) rotate(-82.1)"><polygon points="0,3.4 4.2,-3.2 -4.2,-3.2" fill="none" stroke="#9999FF" stroke-width="1.0"/></g>
<g transform="translate(254.1 572.6) rotate(-84)"><polygon points="0,3.4 4.2,-3.2 -4.2,-3.2" fill="none" stroke="#9999FF" stroke-width="1.0"/></g>
<g transform="translate(263.9 573.5) rotate(-86)"><polygon points="0,-5 1.3,-1.8 4.8,-1.5 2.1,0.7 2.9,4 0,2.2 -2.9,4 -2.1,0.7 -4.8,-1.5 -1.3,-1.8" fill="none" stroke="#922020" stroke-width="1.15"/></g>
<g transform="translate(273.7 574) rotate(-88)"><polygon points="3.5,-3.7 3.5,3.5 -3.7,3.5" fill="none" stroke="#922020" stroke-width="1.0"/></g>
<g transform="translate(283.5 574.1) rotate(-90)"><rect x="-4.4" y="-4.8" width="8.8" height="9.6" fill="#00FFFF"/></g>
<g transform="translate(293.3 574) rotate(-272)"><rect x="-4.4" y="-4.8" width="8.8" height="9.6" fill="#00FFFF"/></g>
<g transform="translate(303.1 573.5) rotate(-274)"><polygon points="0,-5 1.3,-1.8 4.8,-1.5 2.1,0.7 2.9,4 0,2.2 -2.9,4 -2.1,0.7 -4.8,-1.5 -1.3,-1.8" fill="none" stroke="#922020" stroke-width="1.15"/></g>
<g transform="translate(312.9 572.6) rotate(-276)"><polygon points="0,-5 1.3,-1.8 4.8,-1.5 2.1,0.7 2.9,4 0,2.2 -2.9,4 -2.1,0.7 -4.8,-1.5 -1.3,-1.8" fill="none" stroke="#922020" stroke-width="1.15"/></g>
<g transform="translate(322.7 571.5) rotate(-277.9)"><polygon points="0,4.3 4.4,-3.7 -4.4,-3.7" fill="#0000FF"/></g>
<g transform="translate(332.4 570) rotate(-279.9)"><circle r="4.3" fill="none" stroke="#000000" stroke-width="1.3"/></g>
<g transform="translate(342 568.2) rotate(-281.9)"><polygon points="0,-4.4 4.3,3.9 -4.3,3.9" fill="none" stroke="#CCCC00" stroke-width="1.0"/></g>
<g transform="translate(351.6 566.1) rotate(-283.9)"><circle r="4.3" fill="none" stroke="#000000" stroke-width="1.3"/></g>
<g transform="translate(361.1 563.6) rotate(-285.9)"><rect x="-4.4" y="-4.8" width="8.8" height="9.6" fill="#00FFFF"/></g>
<g transform="translate(370.5 560.8) rotate(-287.9)"><rect x="-4.4" y="-4.8" width="8.8" height="9.6" fill="#00FFFF"/></g>
<g transform="translate(379.8 557.8) rotate(-289.9)"><rect x="-4.1" y="-4.3" width="8.2" height="8.6" fill="none" stroke="#2E8CA8" stroke-width="1.0"/></g>
<g transform="translate(389 554.4) rotate(-291.9)"><rect x="-4.1" y="-4.3" width="8.2" height="8.6" fill="none" stroke="#2E8CA8" stroke-width="1.0"/></g>
<g transform="translate(398.1 550.7) rotate(-293.9)"><polygon points="0,-4.4 4.3,3.9 -4.3,3.9" fill="none" stroke="#CCCC00" stroke-width="1.0"/></g>
<g transform="translate(407 546.6) rotate(-295.8)"><polygon points="0,-4.9 4.6,4.3 -4.6,4.3" fill="#60C20C"/></g>
<g transform="translate(415.7 542.3) rotate(-297.8)"><polygon points="3.5,-3.7 3.5,3.5 -3.7,3.5" fill="none" stroke="#922020" stroke-width="1.0"/></g>
<g transform="translate(424.4 537.8) rotate(-299.8)"><polygon points="0,-4.4 4.4,0 0,4.4 -4.4,0" fill="none" stroke="#F58CA8" stroke-width="1.0"/></g>
<g transform="translate(432.8 532.9) rotate(-301.8)"><polygon points="0,4.3 4.4,-3.7 -4.4,-3.7" fill="#0000FF"/></g>
<g transform="translate(441.1 527.7) rotate(-303.8)"><polygon points="0,-5.4 1.3,-1.8 5.1,-1.7 2.1,0.7 3.2,4.4 0,2.2 -3.2,4.4 -2.1,0.7 -5.1,-1.7 -1.3,-1.8" fill="#FF22EE"/></g>
<g transform="translate(449.1 522.3) rotate(-305.8)"><polygon points="0,-4.9 4.6,4.3 -4.6,4.3" fill="#60C20C"/></g>
<g transform="translate(457 516.6) rotate(-307.8)"><polygon points="0,-4.9 4.6,4.3 -4.6,4.3" fill="#60C20C"/></g>
<g transform="translate(464.7 510.6) rotate(-309.8)"><polygon points="0,4.3 4.4,-3.7 -4.4,-3.7" fill="#0000FF"/></g>
<g transform="translate(488.1 521.7) rotate(-311.7)"><polygon points="0,-5.2 5.2,0 0,5.2 -5.2,0" fill="#5A0A46"/></g>
<g transform="translate(495.9 514.7) rotate(-313.7)"><polygon points="0,-5.2 5.2,0 0,5.2 -5.2,0" fill="#5A0A46"/></g>
<g transform="translate(503.5 507.4) rotate(-315.7)"><polygon points="0,4.3 4.4,-3.7 -4.4,-3.7" fill="#0000FF"/></g>
<g transform="translate(510.8 499.9) rotate(-317.7)"><rect x="-4.4" y="-4.8" width="8.8" height="9.6" fill="#00FFFF"/></g>
<g transform="translate(517.8 492.2) rotate(-319.7)"><circle r="4.3" fill="none" stroke="#000000" stroke-width="1.3"/></g>
<g transform="translate(524.6 484.2) rotate(-321.7)"><polygon points="0,-4.9 4.6,4.3 -4.6,4.3" fill="#60C20C"/></g>
</g>
<text class="rn" x="311.3" y="340.2" text-anchor="middle">I</text>
<text class="rn" x="327" y="299" text-anchor="middle">II</text>
<text class="rn" x="309" y="245.3" text-anchor="middle">III</text>
<text class="rn" x="249.3" y="235.6" text-anchor="middle">IV</text>
<text class="rn" x="169.7" y="299.2" text-anchor="middle">V</text>
<text class="rn" x="167.5" y="379.7" text-anchor="middle">VI</text>
<text class="rn" x="336.5" y="427" text-anchor="middle">VII</text>
<path d="M242.3 620.4H291" stroke="#444" stroke-width="0.9" fill="none"/>
<text class="sc" x="266.5" y="635.5" text-anchor="middle">2.0</text>
<g transform="translate(610.5 394.5) scale(1.38)"><polygon points="0,-4.9 4.6,4.3 -4.6,4.3" fill="#10A850"/></g>
<text class="lg" x="618" y="400.5" fill="#10A850" textLength="16" lengthAdjust="spacingAndGlyphs">ZZ</text>
<g transform="translate(658.8 394.5) scale(1.36)"><polygon points="0,-5.4 1.3,-1.8 5.1,-1.7 2.1,0.7 3.2,4.4 0,2.2 -3.2,4.4 -2.1,0.7 -5.1,-1.7 -1.3,-1.8" fill="#FF33CC"/></g>
<text class="lg" x="667" y="400.5" fill="#FF33CC" textLength="15" lengthAdjust="spacingAndGlyphs">YT</text>
<g transform="translate(610.5 417.4) scale(1.42)"><polygon points="0,-5 1.3,-1.8 4.8,-1.5 2.1,0.7 2.9,4 0,2.2 -2.9,4 -2.1,0.7 -4.8,-1.5 -1.3,-1.8" fill="none" stroke="#A03030" stroke-width="0.86"/></g>
<text class="lg" x="618" y="423.4" fill="#A03030" textLength="16" lengthAdjust="spacingAndGlyphs">CP</text>
<g transform="translate(658.8 417.4) scale(1.3)"><rect x="-4.4" y="-4.8" width="8.8" height="9.6" fill="#00FFFF"/></g>
<text class="lg" x="667" y="423.4" fill="#00FFFF" textLength="15" lengthAdjust="spacingAndGlyphs">GT</text>
<g transform="translate(610.5 440.3) scale(1.32)"><polygon points="0,-4.4 4.3,3.9 -4.3,3.9" fill="none" stroke="#CCCC00" stroke-width="0.75"/></g>
<text class="lg" x="618" y="446.3" fill="#CCCC00" textLength="15" lengthAdjust="spacingAndGlyphs">YC</text>
<g transform="translate(658.8 440.3) scale(1.38)"><polygon points="0,4.3 4.4,-3.7 -4.4,-3.7" fill="#0000FF"/></g>
<text class="lg" x="667" y="446.3" fill="#0000FF" textLength="21" lengthAdjust="spacingAndGlyphs" font-weight="bold">YZ</text>
<g transform="translate(610.5 463.2) scale(1.32)"><polygon points="0,3.4 4.2,-3.2 -4.2,-3.2" fill="none" stroke="#9999FF" stroke-width="0.75"/></g>
<text class="lg" x="618" y="469.2" fill="#9999FF" textLength="15" lengthAdjust="spacingAndGlyphs">FN</text>
<g transform="translate(658.8 463.2) scale(1.25)"><rect x="-4.1" y="-4.3" width="8.2" height="8.6" fill="none" stroke="#336633" stroke-width="0.75"/></g>
<text class="lg" x="667" y="469.2" fill="#336633" textLength="32" lengthAdjust="spacingAndGlyphs">HoCP</text>
<g transform="translate(610.5 486.1) scale(1.25)"><polygon points="0,-5.2 5.2,0 0,5.2 -5.2,0" fill="#5E0C30"/></g>
<text class="lg" x="618" y="492.1" fill="#5E0C30" textLength="24" lengthAdjust="spacingAndGlyphs">ROC</text>
<g transform="translate(667.8 486.1) scale(1.4)"><polygon points="0,-4.4 4.4,0 0,4.4 -4.4,0" fill="none" stroke="#FF85C2" stroke-width="0.75"/></g>
<text class="lg" x="676" y="492.1" fill="#FF85C2" textLength="15" lengthAdjust="spacingAndGlyphs">NJ</text>
<g transform="translate(610.5 509) scale(1.32)"><circle r="4.3" fill="none" stroke="#000000" stroke-width="1.05"/></g>
<text class="lg" x="618" y="515" fill="#000000" textLength="15" lengthAdjust="spacingAndGlyphs">LC</text>
<g transform="translate(658.8 509) scale(1.26)"><circle r="4.9" fill="#1E96F0"/></g>
<text class="lg" x="667" y="515" fill="#1E96F0" textLength="15" lengthAdjust="spacingAndGlyphs">GN</text>
<g transform="translate(610.5 531.9) scale(1.35)"><g stroke="#FFCCEE" stroke-width="0.9" fill="#FFCCEE"><path d="M-4.4-4.4L4.4 4.4M4.4-4.4L-4.4 4.4" fill="none"/><circle cx="0" cy="-3.6" r="0.7"/><circle cx="0" cy="3.6" r="0.7"/><circle cx="-3.6" cy="0" r="0.7"/><circle cx="3.6" cy="0" r="0.7"/></g></g>
<text class="lg" x="618" y="537.9" fill="#FFCCEE" textLength="14" lengthAdjust="spacingAndGlyphs">MT</text>
<g transform="translate(660.5 531.9) scale(1.22)"><polygon points="3.5,-3.7 3.5,3.5 -3.7,3.5" fill="none" stroke="#803050" stroke-width="0.75"/></g>
<text class="lg" x="667" y="537.9" fill="#803050" textLength="39" lengthAdjust="spacingAndGlyphs">OTHER</text>
</svg></body></html>
